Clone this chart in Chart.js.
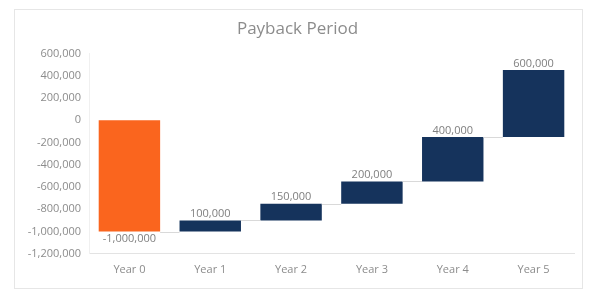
<!DOCTYPE html>
<html>
<head>
<meta charset="utf-8">
<script src="https://cdn.jsdelivr.net/npm/chart.js@4/dist/chart.umd.min.js"></script>
<style>
  html, body { margin: 0; padding: 0; background: #fff; }
  #wrap { position: absolute; left: 0; top: 0; width: 595px; height: 300px; }
</style>
</head>
<body>
<div id="wrap"><canvas id="c" width="595" height="300"></canvas></div>
<script>
const categories = ['Year 0', 'Year 1', 'Year 2', 'Year 3', 'Year 4', 'Year 5'];
const changes = [-1000000, 100000, 150000, 200000, 400000, 600000];
const barColors = ['#FA651E', '#15335C', '#15335C', '#15335C', '#15335C', '#15335C'];
const yTicks = [600000, 400000, 200000, 0, -200000, -400000, -600000, -800000, -1000000, -1200000];

// floating ranges built from the changes
const ranges = [];
let run = 0;
for (const v of changes) { ranges.push([run, run + v]); run += v; }

const fmt = v => v.toLocaleString('en-US');
const FONT = "'Open Sans', 'Segoe UI', sans-serif";

const frame = {
  id: 'frame',
  beforeDraw(chart) {
    const ctx = chart.ctx;
    ctx.save();
    ctx.strokeStyle = '#e6e6e6';
    ctx.lineWidth = 1;
    ctx.strokeRect(14.5, 9.5, 568, 279);
    ctx.restore();
  }
};

const connectors = {
  id: 'connectors',
  afterDatasetsDraw(chart) {
    const ctx = chart.ctx;
    const meta = chart.getDatasetMeta(0);
    const ys = chart.scales.y;
    ctx.save();
    ctx.strokeStyle = '#d9d9d9';
    ctx.lineWidth = 1;
    for (let i = 0; i < ranges.length - 1; i++) {
      const a = meta.data[i], b = meta.data[i + 1];
      const y = Math.round(ys.getPixelForValue(ranges[i][1])) + 0.5;
      ctx.beginPath();
      ctx.moveTo(a.x + a.width / 2, y);
      ctx.lineTo(b.x - b.width / 2, y);
      ctx.stroke();
    }
    ctx.restore();
  }
};

const labels = {
  id: 'labels',
  afterDatasetsDraw(chart) {
    const ctx = chart.ctx;
    const meta = chart.getDatasetMeta(0);
    const ys = chart.scales.y;
    ctx.save();
    ctx.font = '11px ' + FONT;
    ctx.fillStyle = '#7f7f7f';
    ctx.textAlign = 'center';
    changes.forEach((v, i) => {
      const el = meta.data[i];
      const top = ys.getPixelForValue(Math.max(...ranges[i]));
      const bot = ys.getPixelForValue(Math.min(...ranges[i]));
      if (v >= 0) {
        ctx.textBaseline = 'bottom';
        ctx.fillText(fmt(v), el.x, top - 1);
      } else {
        ctx.textBaseline = 'top';
        ctx.fillText(fmt(v), el.x, bot + 2);
      }
    });
    ctx.restore();
  }
};

new Chart(document.getElementById('c'), {
  type: 'bar',
  data: {
    labels: categories,
    datasets: [{
      data: ranges,
      backgroundColor: barColors,
      borderWidth: 0,
      barPercentage: 0.76,
      categoryPercentage: 1.0
    }]
  },
  options: {
    responsive: false,
    animation: false,
    devicePixelRatio: 1,
    layout: { padding: { left: 21, right: 21, top: 10, bottom: 15 } },
    plugins: {
      legend: { display: false },
      tooltip: { enabled: false },
      title: {
        display: true,
        text: 'Payback Period',
        color: '#8c8c8c',
        font: { family: FONT, size: 17, weight: 'normal' },
        padding: { top: 9, bottom: 14 }
      }
    },
    scales: {
      x: {
        grid: { display: false, drawTicks: false },
        border: { display: true, color: '#e3e3e3' },
        ticks: { color: '#8c8c8c', font: { family: FONT, size: 11 }, padding: 9 }
      },
      y: {
        min: -1200000,
        max: 600000,
        afterFit(s) { s.width = 68; },
        afterBuildTicks(s) { s.ticks = yTicks.map(v => ({ value: v })); },
        grid: { display: false, drawTicks: false },
        border: { display: true, color: '#f0f0f0' },
        ticks: {
          color: '#8c8c8c',
          font: { family: FONT, size: 11 },
          padding: 8,
          callback: v => fmt(v)
        }
      }
    }
  },
  plugins: [frame, connectors, labels]
});
</script>
</body>
</html>
